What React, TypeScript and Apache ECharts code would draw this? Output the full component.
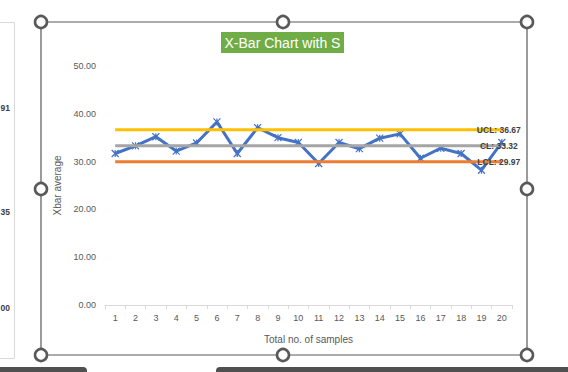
import React, { useEffect, useRef } from 'react';
import * as echarts from 'echarts';

const samples = ['1', '2', '3', '4', '5', '6', '7', '8', '9', '10', '11', '12', '13', '14', '15', '16', '17', '18', '19', '20'];
const xbar = [31.7, 33.3, 35.2, 32.2, 33.9, 38.3, 31.7, 37.1, 35.0, 34.0, 29.6, 34.0, 32.7, 34.9, 35.8, 30.7, 32.8, 31.7, 28.2, 34.0];
const UCL = 36.67;
const CL = 33.32;
const LCL = 29.97;
const yMin = 0;
const yMax = 50;
const yStep = 10;
const sideLabels = ['91', '35', '00'];

const FONT = '"Liberation Sans", Arial, sans-serif';

export default function App() {
  const ref = useRef<HTMLDivElement>(null);

  useEffect(() => {
    if (!ref.current) return;
    const chart = echarts.init(ref.current, null, { renderer: 'svg' });

    const ctrl = (name: string, value: number, color: string) => ({
      name,
      type: 'line',
      data: samples.map((_, i) =>
        i === samples.length - 1
          ? {
              value,
              label: {
                show: true,
                position: 'inside',
                offset: [-3, 0],
                formatter: `${name}: ${value.toFixed(2)}`,
                fontSize: 8.5,
                fontWeight: 'bold',
                color: '#404040',
                fontFamily: FONT,
              },
            }
          : value
      ),
      symbol: 'circle',
      symbolSize: 0.1,
      showSymbol: true,
      lineStyle: { color, width: 3 },
      itemStyle: { color },
      silent: true,
      z: 3,
    });

    const handles = [
      [41, 22], [283, 22], [527, 22],
      [41, 189], [527, 189],
      [41, 355], [283, 355], [527, 355],
    ];

    const frameColor = '#595959';

    chart.setOption({
      animation: false,
      backgroundColor: '#ffffff',
      textStyle: { fontFamily: FONT },
      grid: { left: 105, right: 56, top: 66, bottom: 67, containLabel: false },
      xAxis: {
        type: 'category',
        data: samples,
        boundaryGap: true,
        name: 'Total no. of samples',
        nameLocation: 'middle',
        nameGap: 29,
        nameTextStyle: { color: '#595959', fontSize: 10, fontFamily: FONT },
        axisLine: { show: true, lineStyle: { color: '#D9D9D9', width: 1 } },
        axisTick: { show: true, alignWithLabel: false, length: 4, lineStyle: { color: '#D9D9D9' } },
        axisLabel: { color: '#595959', fontSize: 9, margin: 8, fontFamily: FONT },
        splitLine: { show: false },
      },
      yAxis: {
        type: 'value',
        min: yMin,
        max: yMax,
        interval: yStep,
        name: 'Xbar average',
        nameLocation: 'middle',
        nameGap: 37,
        nameRotate: 90,
        nameTextStyle: { color: '#595959', fontSize: 10, fontFamily: FONT },
        axisLine: { show: false },
        axisTick: { show: false },
        splitLine: { show: false },
        axisLabel: {
          color: '#595959',
          fontSize: 9,
          margin: 9,
          fontFamily: FONT,
          formatter: (v: number) => v.toFixed(2),
        },
      },
      series: [
        {
          name: 'Xbar',
          type: 'line',
          data: xbar,
          symbol: 'path://M0,0L10,10M10,0L0,10M5,0L5,10',
          symbolSize: 7,
          showSymbol: true,
          lineStyle: { color: '#4472C4', width: 3 },
          itemStyle: { color: '#4472C4', borderColor: '#4472C4', borderWidth: 1.2 },
          z: 2,
        },
        ctrl('UCL', UCL, '#FFC000'),
        ctrl('CL', CL, '#A5A5A5'),
        ctrl('LCL', LCL, '#ED7D31'),
      ],
      graphic: [
        {
          type: 'rect',
          shape: { x: 221, y: 32, width: 123, height: 21 },
          style: { fill: '#70AD47' },
          z: 10,
        },
        {
          type: 'text',
          x: 282.5,
          y: 42.5,
          style: {
            text: 'X-Bar Chart with S',
            fill: '#ffffff',
            fontSize: 14,
            fontFamily: FONT,
            align: 'center',
            verticalAlign: 'middle',
          },
          z: 11,
        },
        {
          type: 'polyline',
          shape: { points: [[0, 22.5], [14.5, 22.5], [14.5, 358.5], [0, 358.5]] },
          style: { stroke: '#D9D9D9', fill: 'none', lineWidth: 1 },
          z: 10,
        },
        ...sideLabels.map((t, i) => ({
          type: 'text',
          x: 10,
          y: [108, 212, 308][i],
          style: {
            text: t,
            fill: '#404040',
            fontSize: 8.5,
            fontWeight: 'bold',
            fontFamily: FONT,
            align: 'right',
            verticalAlign: 'middle',
          },
          z: 10,
        })),
        {
          type: 'rect',
          shape: { x: -5, y: 367, width: 92, height: 10, r: 4 },
          style: { fill: '#505050' },
          z: 10,
        },
        {
          type: 'rect',
          shape: { x: 216, y: 367, width: 360, height: 10, r: 4 },
          style: { fill: '#505050' },
          z: 10,
        },
        {
          type: 'rect',
          shape: { x: 41, y: 22, width: 486, height: 333 },
          style: { stroke: frameColor, fill: 'none', lineWidth: 1.2 },
          z: 12,
        },
        ...handles.map(([x, y]) => ({
          type: 'circle',
          shape: { cx: x, cy: y, r: 6 },
          style: { fill: '#ffffff', stroke: frameColor, lineWidth: 2.6 },
          z: 13,
        })),
      ],
    });

    return () => chart.dispose();
  }, []);

  return (
    <div
      ref={ref}
      style={{ position: 'fixed', left: 0, top: 0, width: 568, height: 372, background: '#fff' }}
    />
  );
}
